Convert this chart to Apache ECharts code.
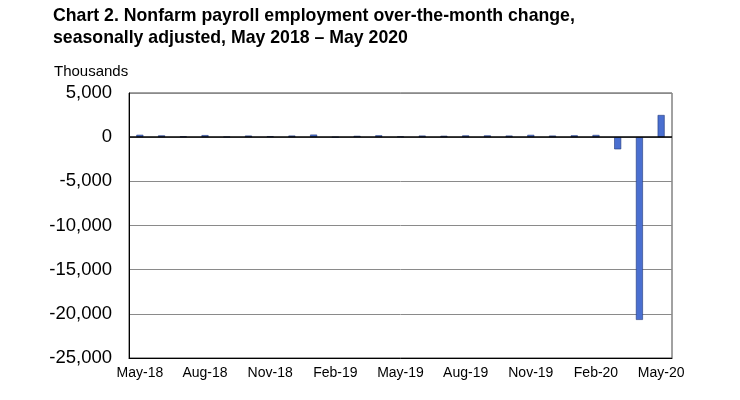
<!DOCTYPE html>
<html>
<head>
    <meta charset="utf-8">
    <title>Chart 2. Nonfarm payroll employment</title>
    <script src="https://cdn.jsdelivr.net/npm/echarts@6.0.0/dist/echarts.min.js"></script>
    <style>
        body { margin: 0; background: #fff; }
        #chart { width: 740px; height: 400px; }
    </style>
</head>
<body>
    <div id="chart"></div>
    <script>
        // months, May 2018 - May 2020
        var months = ['May-18', 'Jun-18', 'Jul-18', 'Aug-18', 'Sep-18', 'Oct-18', 'Nov-18', 'Dec-18',
            'Jan-19', 'Feb-19', 'Mar-19', 'Apr-19', 'May-19', 'Jun-19', 'Jul-19', 'Aug-19', 'Sep-19',
            'Oct-19', 'Nov-19', 'Dec-19', 'Jan-20', 'Feb-20', 'Mar-20', 'Apr-20', 'May-20'];

        // over-the-month change, thousands
        var change = [270, 200, 90, 230, 40, 180, 110, 180,
            290, 1, 150, 210, 85, 180, 160, 200, 200,
            180, 260, 180, 210, 250, -1373, -20687, 2509];

        var yTicks = { min: -25000, max: 5000, step: 5000 };

        var font = '"Liberation Sans", Arial, sans-serif';
        var chart = echarts.init(document.getElementById('chart'));

        chart.setOption({
            animation: false,
            title: [{
                text: 'Chart 2. Nonfarm payroll employment over-the-month change,\nseasonally adjusted, May 2018 \u2013 May 2020',
                left: 53,
                top: 5,
                padding: 0,
                textStyle: { fontFamily: font, fontSize: 17.7, fontWeight: 'bold', color: '#000', lineHeight: 22 }
            }, {
                text: 'Thousands',
                left: 54,
                top: 64,
                padding: 0,
                textStyle: { fontFamily: font, fontSize: 15, fontWeight: 'normal', color: '#000' }
            }],
            grid: {
                left: 129, right: 68, top: 93, bottom: 42,
                show: true, borderColor: '#444', borderWidth: 1
            },
            xAxis: {
                type: 'category',
                data: months,
                axisLine: { onZero: false, lineStyle: { color: '#000', width: 1 } },
                axisTick: { show: false },
                axisLabel: {
                    interval: 2, color: '#000', fontFamily: font, fontSize: 14, margin: 8
                }
            },
            yAxis: {
                type: 'value',
                min: yTicks.min, max: yTicks.max, interval: yTicks.step,
                axisLine: { show: true, lineStyle: { color: '#000', width: 1 } },
                axisTick: { show: false },
                splitLine: { lineStyle: { color: '#8a8a8a', width: 1 } },
                axisLabel: {
                    color: '#000', fontFamily: font, fontSize: 18.5, margin: 17,
                    formatter: function (v) { return v.toLocaleString('en-US'); }
                }
            },
            series: [{
                type: 'bar',
                data: change,
                barWidth: 7,
                itemStyle: { color: '#4a6fd0', borderColor: '#22397a', borderWidth: 0.6 },
                markLine: {
                    silent: true,
                    symbol: 'none',
                    label: { show: false },
                    lineStyle: { color: '#000', type: 'solid', width: 1.5 },
                    data: [{ yAxis: 0 }]
                }
            }]
        });
    </script>
</body>
</html>
